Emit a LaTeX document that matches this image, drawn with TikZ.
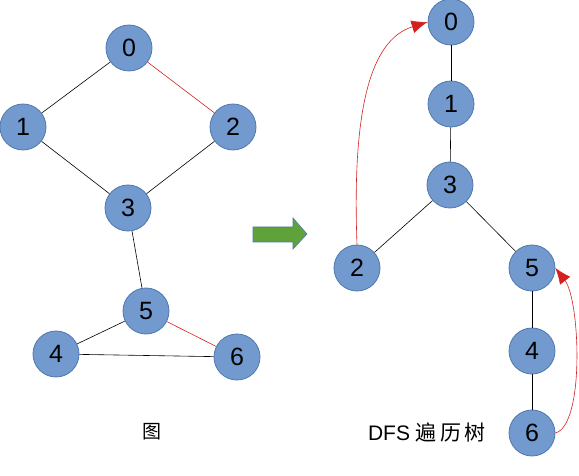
\documentclass[tikz,border=0pt]{standalone}
\usepackage{fontspec}
\setmainfont{Liberation Sans}
\newfontfamily\cjk{Noto Sans CJK SC}
\usepackage{xcolor}
\usepackage{tikz}
\usetikzlibrary{shapes,arrows,arrows.meta,positioning}
\definecolor{nodeblue}{HTML}{729ACF}
\definecolor{nodeedge}{HTML}{4F78AE}
\definecolor{arrowgreen}{HTML}{5FA23A}
\definecolor{treered}{HTML}{D42020}
\tikzstyle{vertex} = [circle,draw=nodeedge,fill=nodeblue,line width=0.8pt,minimum size=46pt,inner sep=0pt,font=\fontsize{25}{25}\selectfont]
\tikzstyle{edge} = [line width=0.6pt,black]
\tikzstyle{redge} = [line width=0.6pt,treered]
\tikzstyle{back} = [line width=0.6pt,treered,-{Latex[length=16pt,width=13pt]}]

\begin{document}
\begin{tikzpicture}[x=1pt,y=-1pt]
        \useasboundingbox (0,0) rectangle (579,476);
        % left graph
        \node[vertex] (a0) at (129,48) {0};
        \node[vertex] (a1) at (23,127) {1};
        \node[vertex] (a2) at (233,127) {2};
        \node[vertex] (a3) at (128,208) {3};
        \node[vertex] (a5) at (146,311) {5};
        \node[vertex] (a4) at (56,354) {4};
        \node[vertex] (a6) at (237,357) {6};

        \draw [edge] (a0) -- (a1);
        \draw [redge] (a0) -- (a2);
        \draw [edge] (a1) -- (a3);
        \draw [edge] (a2) -- (a3);
        \draw [edge] (a3) -- (a5);
        \draw [edge] (a5) -- (a4);
        \draw [redge] (a5) -- (a6);
        \draw [edge] (a4) -- (a6);

        \node[font=\cjk\fontsize{19}{19}\selectfont] (lblgraph) at (152,432) {图};

        % big arrow
        \draw[draw=nodeedge,fill=arrowgreen,line width=0.6pt]
            (253,227) -- (293,227) -- (293,218) -- (307,234) -- (293,249) -- (293,242) -- (253,242) -- cycle;

        % DFS tree
        \node[vertex] (b0) at (451,22) {0};
        \node[vertex] (b1) at (451,104) {1};
        \node[vertex] (b3) at (450,185) {3};
        \node[vertex] (b2) at (357,268) {2};
        \node[vertex] (b5) at (532,268) {5};
        \node[vertex] (b4) at (532,351) {4};
        \node[vertex] (b6) at (532,433) {6};

        \draw [edge] (b0) -- (b1);
        \draw [edge] (b1) -- (b3);
        \draw [edge] (b3) -- (b2);
        \draw [edge] (b3) -- (b5);
        \draw [edge] (b5) -- (b4);
        \draw [edge] (b4) -- (b6);

        \draw [back] (b2.north) .. controls (352,110) and (370,40) .. (b0.west);
        \draw [back] (b6.east) .. controls (585,425) and (580,300) .. (b5.east);

        \node[font=\fontsize{21}{21}\selectfont] (lbltree) at (427,432) {DFS {\cjk 遍\,历\,树}};
\end{tikzpicture}
\end{document}
